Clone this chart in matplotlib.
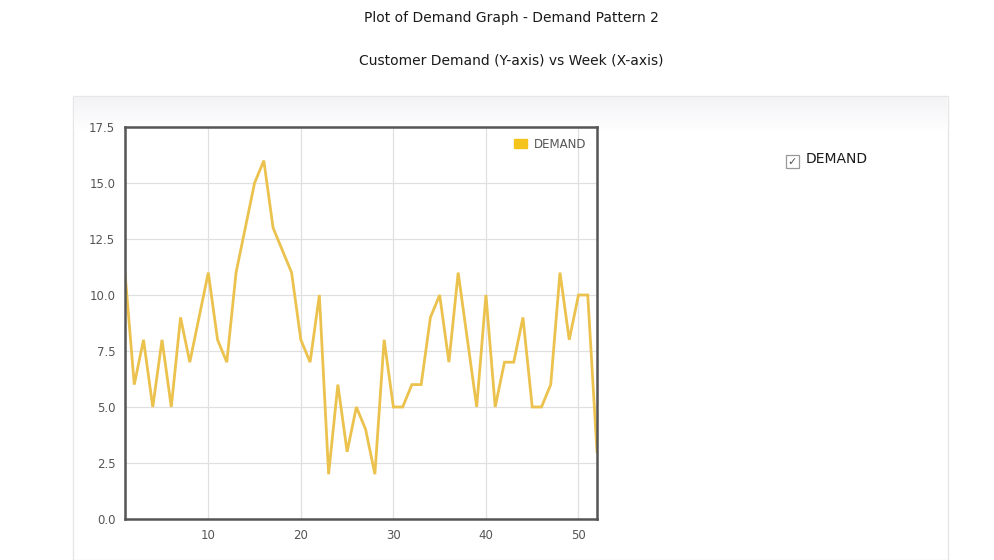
import numpy as np
import matplotlib.pyplot as plt
from matplotlib.patches import Rectangle, Patch

# -----------------------------------------------------------------------------
# Data
# -----------------------------------------------------------------------------
weeks = list(range(1, 53))
demand = [11, 6, 8, 5, 8, 5, 9, 7, 9, 11,
          8, 7, 11, 13, 15, 16, 13, 12, 11, 8,
          7, 10, 2, 6, 3, 5, 4, 2, 8, 5,
          5, 6, 6, 9, 10, 7, 11, 8, 5, 10,
          5, 7, 7, 9, 5, 5, 6, 11, 8, 10,
          10, 3]
x_ticks = [10, 20, 30, 40, 50]
y_ticks = [0, 2.5, 5, 7.5, 10, 12.5, 15, 17.5]

title = "Plot of Demand Graph - Demand Pattern 2"
subtitle = "Customer Demand (Y-axis) vs Week (X-axis)"
series_name = "DEMAND"

line_color = "#ecc24e"
patch_color = "#f4c41c"

W, H = 995, 560
fig = plt.figure(figsize=(W / 100, H / 100), dpi=100)
fig.patch.set_facecolor("white")

# -----------------------------------------------------------------------------
# Panel behind the chart (light border with a faint gradient at the top)
# -----------------------------------------------------------------------------
px0, px1, py0, py1 = 73, 948, 96, 560
fig.patches.append(Rectangle((px0 / W, 0), (px1 - px0) / W, 1 - py0 / H,
                             transform=fig.transFigure, facecolor="white",
                             edgecolor="#e6e6e6", linewidth=1, zorder=-2))
grad_ax = fig.add_axes([(px0 + 1) / W, 1 - 132 / H, (px1 - px0 - 2) / W, 35 / H])
grad_ax.set_zorder(-1)
t = np.linspace(0, 1, 60).reshape(-1, 1, 1)
top = np.array([0.955, 0.955, 0.965]).reshape(1, 1, 3)
grad = top + (1 - top) * t
grad_ax.imshow(grad, aspect="auto", extent=[0, 1, 0, 1], origin="upper")
grad_ax.axis("off")

# -----------------------------------------------------------------------------
# Titles
# -----------------------------------------------------------------------------
fig.text(511 / W, 1 - 18 / H, title, ha="center", va="center",
         fontsize=10, color="#1a1a1a")
fig.text(511 / W, 1 - 60 / H, subtitle, ha="center", va="center",
         fontsize=10, color="#1a1a1a")

# -----------------------------------------------------------------------------
# Main axes
# -----------------------------------------------------------------------------
ax = fig.add_axes([125 / W, 1 - 519 / H, 472 / W, 392 / H])
ax.set_zorder(1)
ax.plot(weeks, demand, color=line_color, linewidth=2.0, solid_joinstyle="miter")
ax.set_xlim(1, 52)
ax.set_ylim(0, 17.5)
ax.set_xticks(x_ticks)
ax.set_yticks(y_ticks)
ax.set_yticklabels(["%.1f" % v for v in y_ticks])
ax.tick_params(length=0, labelsize=8.5, labelcolor="#555555", pad=7)
ax.grid(True, color="#e0e0e0", linewidth=0.9)
ax.set_axisbelow(True)
for s in ax.spines.values():
    s.set_color("#555555")
    s.set_linewidth(1.8)

ax.legend(handles=[Patch(facecolor=patch_color, edgecolor=patch_color, label=series_name)],
          loc="upper right", frameon=False, fontsize=8.5, handlelength=1.1,
          handleheight=0.9, handletextpad=0.6, borderaxespad=0.5,
          labelcolor="#555555")

# -----------------------------------------------------------------------------
# Checkbox toggle on the right
# -----------------------------------------------------------------------------
fig.patches.append(Rectangle((786 / W, 1 - 168 / H), 13 / W, 13 / H,
                             transform=fig.transFigure, facecolor="white",
                             edgecolor="#999999", linewidth=0.9))
fig.text(792.5 / W, 1 - 161.5 / H, "\u2713", ha="center", va="center",
         fontsize=8, color="#555555")
fig.text(806 / W, 1 - 159 / H, series_name, ha="left", va="center",
         fontsize=10, color="#1a1a1a")

fig.savefig("out.png", dpi=100)
